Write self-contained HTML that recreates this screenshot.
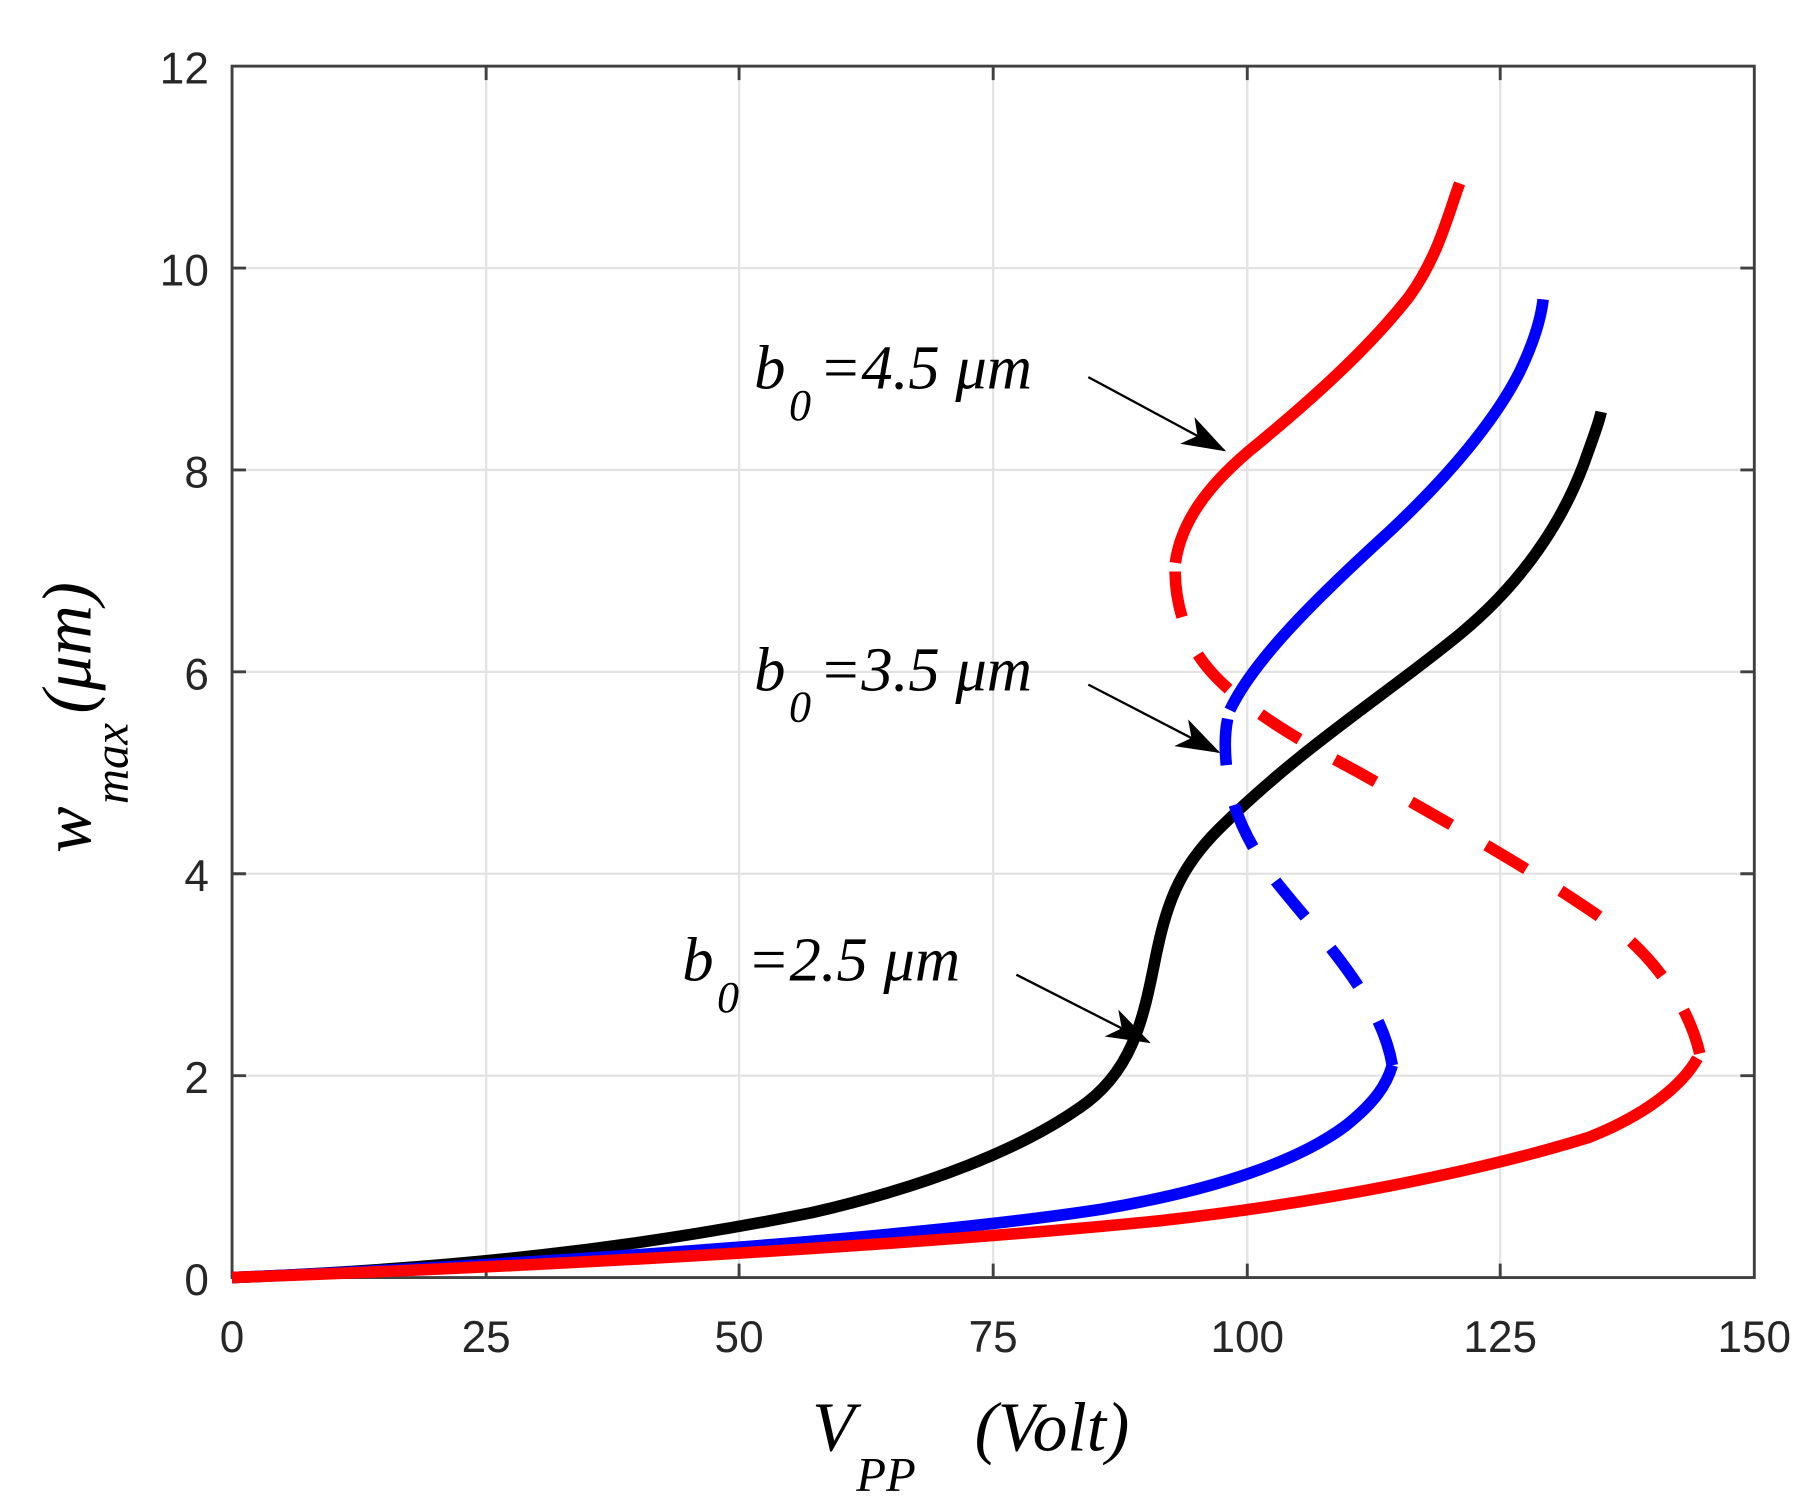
<!DOCTYPE html>
<html><head><meta charset="utf-8"><style>html,body{margin:0;padding:0;background:#fff}</style></head>
<body>
<svg width="1810" height="1505" viewBox="0 0 1560 1297" preserveAspectRatio="none" xmlns="http://www.w3.org/2000/svg">
<defs><marker id="ar" markerWidth="40" markerHeight="30" refX="36" refY="15" orient="auto" markerUnits="userSpaceOnUse" viewBox="0 0 40 30"><path d="M0,2 L38,15 L0,28 L10,15 Z" fill="#000"/></marker></defs>
<g stroke="#e3e3e3" stroke-width="2">
<line x1="419" y1="57" x2="419" y2="1101"/><line x1="637" y1="57" x2="637" y2="1101"/><line x1="856" y1="57" x2="856" y2="1101"/><line x1="1075" y1="57" x2="1075" y2="1101"/><line x1="1293" y1="57" x2="1293" y2="1101"/>
<line x1="200" y1="231" x2="1512" y2="231"/><line x1="200" y1="405" x2="1512" y2="405"/><line x1="200" y1="579" x2="1512" y2="579"/><line x1="200" y1="753" x2="1512" y2="753"/><line x1="200" y1="927" x2="1512" y2="927"/>
</g>
<g stroke="#404040" stroke-width="2.5">
<rect x="200" y="57" width="1312" height="1044" fill="none"/>
<path d="M419,1101v-12M637,1101v-12M856,1101v-12M1075,1101v-12M1293,1101v-12M419,57v12M637,57v12M856,57v12M1075,57v12M1293,57v12M200,231h12M200,405h12M200,579h12M200,753h12M200,927h12M1512,231h-12M1512,405h-12M1512,579h-12M1512,753h-12M1512,927h-12"/>
</g>
<g font-family="Liberation Sans, sans-serif" font-size="38" fill="#262626">
<g text-anchor="end"><text x="180" y="72">12</text><text x="180" y="246">10</text><text x="180" y="420">8</text><text x="180" y="594">6</text><text x="180" y="768">4</text><text x="180" y="942">2</text><text x="180" y="1116">0</text></g>
<g text-anchor="middle"><text x="200" y="1165">0</text><text x="419" y="1165">25</text><text x="637" y="1165">50</text><text x="856" y="1165">75</text><text x="1075" y="1165">100</text><text x="1293" y="1165">125</text><text x="1512" y="1165">150</text></g>
</g>
<g fill="none" stroke-width="10" stroke-linecap="butt" stroke-linejoin="round">
<path stroke="#000" d="M200,1101 C400,1093 550,1075 700,1045 C800,1022 880,990 930,955 C975,925 985,880 995,830 C1005,780 1015,750 1050,715 C1120,645 1200,595 1260,545 C1320,495 1350,440 1365,400 C1372,380 1378,365 1380,355"/>
<path stroke="#0000ff" d="M200,1101 C500,1088 800,1065 950,1042 C1050,1025 1120,1000 1160,970 C1185,950 1195,935 1200,918"/>
<path stroke="#0000ff" stroke-dasharray="40,35" d="M1200,918 C1190,860 1140,810 1100,760 C1070,720 1060,690 1057,660 C1055,640 1056,625 1060,612"/>
<path stroke="#0000ff" d="M1060,612 C1080,570 1130,520 1190,465 C1250,410 1290,360 1310,320 C1322,295 1328,275 1330,258"/>
<path stroke="#ff0000" d="M200,1101 C500,1090 800,1072 1000,1052 C1150,1035 1280,1008 1370,980 C1420,960 1450,935 1463,912"/>
<path stroke="#ff0000" stroke-dasharray="40,35" d="M1465,908 C1455,865 1425,825 1390,798 C1330,755 1250,710 1170,665 C1100,628 1050,595 1030,560 C1015,530 1012,505 1013,485"/>
<path stroke="#ff0000" d="M1013,485 C1018,450 1040,420 1075,390 C1130,345 1180,300 1215,255 C1240,220 1248,185 1258,158"/>
</g>
<g stroke="#000" stroke-width="2" fill="none" marker-end="url(#ar)">
<path d="M938,325 L1055,388"/><path d="M938,590 L1050,648"/><path d="M876,840 L990,898"/>
</g>
<g font-family="Liberation Serif, serif" font-style="italic" font-size="54" fill="#000">
<text x="650" y="335">b</text><text x="680" y="362" font-size="38">0</text><text x="706" y="335">=4.5 μm</text>
<text x="650" y="595">b</text><text x="680" y="622" font-size="38">0</text><text x="706" y="595">=3.5 μm</text>
<text x="588" y="845">b</text><text x="618" y="872" font-size="38">0</text><text x="644" y="845">=2.5 μm</text>
<text x="700" y="1250" font-size="60">V</text><text x="738" y="1285" font-size="42">PP</text><text x="840" y="1250" font-size="60">(Volt)</text>
<g transform="translate(78,735) rotate(-90)"><text x="0" y="0" font-size="60">w</text><text x="42" y="32" font-size="42">max</text><text x="120" y="0" font-size="60">(μm)</text></g>
</g>
</svg>
</body></html>
